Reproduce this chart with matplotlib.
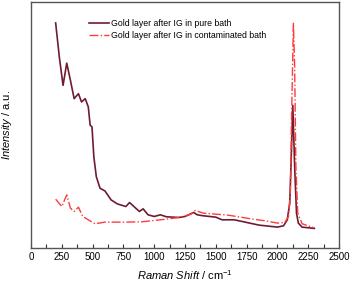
import numpy as np
import matplotlib
matplotlib.use("Agg")
import matplotlib.pyplot as plt
from matplotlib.ticker import MultipleLocator

plt.rcParams['font.family'] = ['Liberation Sans', 'DejaVu Sans']
plt.rcParams['mathtext.fontset'] = 'custom'
plt.rcParams['mathtext.rm'] = 'Liberation Sans'
plt.rcParams['mathtext.it'] = 'Liberation Sans:italic'

# Gold layer after IG in pure bath
pure_x = [200, 230, 260, 290, 320, 350, 385, 410, 440, 465, 480, 495, 510, 530, 560,
          600, 650, 700, 770, 800, 850, 880, 910, 950, 1000, 1050, 1100, 1200, 1250,
          1320, 1350, 1400, 1500, 1550, 1650, 1750, 1850, 2000, 2050, 2080, 2100,
          2110, 2125, 2140, 2155, 2170, 2200, 2300]
pure_yz = [67, 170, 255, 188, 240, 295, 280, 305, 295, 320, 375, 380, 470, 530, 565,
           573, 600, 612, 620, 608, 625, 635, 627, 645, 650, 645, 651, 653, 650,
           638, 645, 648, 652, 660, 660, 668, 676, 682, 678, 660, 610,
           500, 315, 500, 640, 670, 682, 686]

# Gold layer after IG in contaminated bath
cont_x = [200, 250, 290, 320, 350, 385, 420, 500, 520, 600, 750, 900, 1000, 1100,
          1200, 1300, 1330, 1400, 1500, 1600, 1700, 1800, 1900, 2000, 2060, 2090,
          2105, 2115, 2130, 2140, 2150, 2165, 2200, 2300]
cont_yz = [598, 620, 585, 625, 635, 622, 650, 668, 672, 667, 667, 666, 662, 658,
           653, 643, 632, 640, 643, 646, 652, 658, 663, 670, 668, 650,
           580, 350, 68, 200, 500, 640, 672, 684]

pure_y = [(745 - v) / 3 for v in pure_yz]
cont_y = [(745 - v) / 3 for v in cont_yz]

fig = plt.figure(figsize=(3.5, 2.85), dpi=100)
ax = fig.add_axes([0.0886, 0.1298, 0.88, 0.863])

ax.plot(pure_x, pure_y, color='#6e1c32', lw=1.2, label='Gold layer after IG in pure bath')
ax.plot(cont_x, cont_y, color='#ff3b3b', lw=1.0, ls='-.', label='Gold layer after IG in contaminated bath')

ax.set_xlim(0, 2500)
ax.set_ylim(0, 247)
ax.xaxis.set_major_locator(MultipleLocator(250))
ax.xaxis.set_minor_locator(MultipleLocator(125))
ax.tick_params(axis='x', which='major', direction='in', length=3, width=0.8, labelsize=7, pad=3, colors='#333333', labelcolor='black')
ax.tick_params(axis='x', which='minor', direction='in', length=3, width=0.8, colors='#333333')
ax.set_yticks([])
for s in ax.spines.values():
    s.set_color('#555555')
    s.set_linewidth(1.0)

ax.set_xlabel(r'$\mathit{Raman\ Shift}$ / cm$^{-1}$', fontsize=8, labelpad=4)
ax.set_ylabel(r'$\mathit{Intensity}$ / a.u.', fontsize=8, labelpad=12)

leg = ax.legend(loc='upper left', bbox_to_anchor=(0.178, 0.945), frameon=False, fontsize=6.3,
                handlelength=2.3, handletextpad=0.15, labelspacing=0.3, borderaxespad=0)

fig.savefig('out.png', dpi=100)
